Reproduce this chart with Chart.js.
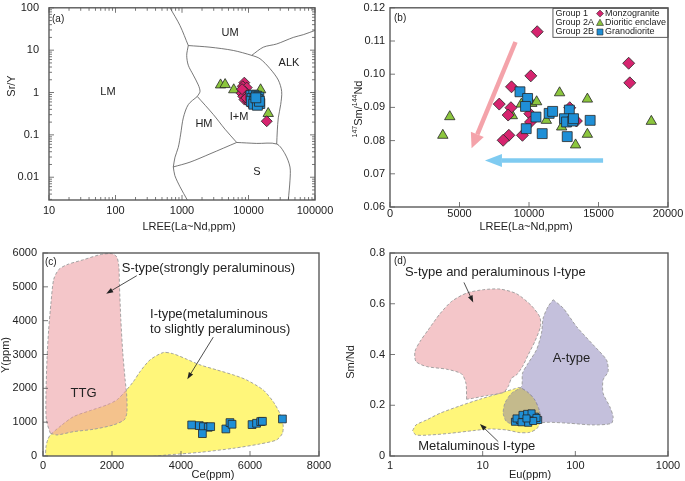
<!DOCTYPE html>
<html lang="en">
<head>
<meta charset="UTF-8">
<title>Granite discrimination diagrams</title>
<script src="https://cdn.jsdelivr.net/npm/chart.js@4.4.1/dist/chart.umd.min.js"></script>
<style>
  * { margin: 0; padding: 0; }
  body { width: 685px; height: 481px; background: #fff; position: relative; overflow: hidden; }
  .panel { position: absolute; }
</style>
</head>
<body>
<div class="panel" style="left:0;top:0"><canvas id="chartA" width="342" height="240"></canvas></div>
<div class="panel" style="left:342px;top:0"><canvas id="chartB" width="343" height="240"></canvas></div>
<div class="panel" style="left:0;top:240px"><canvas id="chartC" width="342" height="241"></canvas></div>
<div class="panel" style="left:342px;top:240px"><canvas id="chartD" width="343" height="241"></canvas></div>
<script>
const FONT = "'Liberation Sans', Arial, sans-serif";
Chart.defaults.font.family = FONT;

// ---------- (a) LREE vs Sr/Y ----------
const aTicksX = [10, 100, 1000, 10000, 100000];
const aTicksY = [0.01, 0.1, 1, 10, 100];
const aMonzogranite = [[8650,1.71],[8200,1.40],[9400,1.31],[8850,1.05],[7900,0.96],[8350,0.81],[8700,0.68],[9900,0.62],[9300,0.74],[10500,0.55],[18800,0.21],[8000,1.2]];
const aDioritic = [[3800,1.51],[4450,1.54],[6000,1.16],[15200,1.16],[19800,0.32]];
const aGranodiorite = [[10900,0.85],[12000,0.87],[13200,0.82],[14300,0.78],[11300,0.72],[12500,0.7],[13800,0.68],[11000,0.62],[12200,0.6],[13400,0.57],[14800,0.55],[12000,0.53],[13600,0.5],[14600,0.62],[12900,0.75]];
const aBoundaries = [
  [[660,100],[933,38.1],[1243,12.85]],
  [[1243,12.85],[2636,11.75],[5905,9.84],[11170,7.53],[14890,6.28],[21040,3.67],[28050,1.97],[31550,1.055],[30480,0.518],[28050,0.252],[27100,0.124],[26540,0.0608]],
  [[11170,7.53],[16700,11.75],[26540,14.0],[47200,20.0],[66700,23.2],[100000,29.2]],
  [[1243,12.85],[1177,7.53],[1243,4.40],[1479,2.58],[1758,1.51],[1865,1.055],[1698,0.807]],
  [[1698,0.807],[2956,0.303],[4433,0.136],[6645,0.0662]],
  [[1698,0.807],[1243,0.518],[1046,0.252],[955,0.104],[879,0.0507],[785,0.0297],[740,0.0175]],
  [[6645,0.0662],[2636,0.0356],[1319,0.0227],[740,0.0175]],
  [[6645,0.0662],[13280,0.0628],[26540,0.0608],[35400,0.0356],[42070,0.0174],[42070,0.0085],[39670,0.0029]],
  [[740,0.0175],[780,0.011],[933,0.00595],[1202,0.0029]]
];
const aRegionLabels = [['UM',5270,25.2],['ALK',40600,4.99],['LM',77,1.055],['HM',2140,0.18],['I+M',7200,0.262],['S',13400,0.0131]];

// ---------- (b) LREE vs 147Sm/144Nd ----------
const bTicksX = [0, 5000, 10000, 15000, 20000];
const bTicksY = [0.06, 0.07, 0.08, 0.09, 0.10, 0.11, 0.12];
const bMonzogranite = [[10590,0.1128],[17170,0.1033],[17250,0.0974],[10130,0.0995],[8740,0.0962],[7860,0.0910],[8700,0.0899],[8500,0.0877],[10060,0.0881],[10110,0.0856],[8550,0.0816],[8140,0.0801],[9530,0.0816],[12930,0.0899],[13410,0.0859]];
const bDioritic = [[3800,0.0816],[4300,0.0872],[8800,0.0875],[9450,0.0910],[10200,0.0912],[10550,0.0917],[11250,0.0861],[12200,0.0944],[12350,0.0841],[13350,0.0787],[14200,0.0925],[14200,0.0819],[18800,0.0858]];
const bGranodiorite = [[9350,0.0947],[9900,0.0927],[9750,0.0903],[10500,0.0871],[9800,0.0836],[10950,0.0821],[11450,0.0882],[11700,0.0888],[12900,0.0892],[12550,0.0866],[12700,0.0856],[13150,0.0859],[13200,0.0866],[12750,0.0812],[14400,0.0861]];
const bPinkArrow = [[9030,0.1097],[5870,0.0777]];
const bBlueArrow = [[15330,0.0740],[6830,0.0740]];
const bLegendGroups = ['Group 1', 'Group 2A', 'Group 2B'];
const bLegendNames = ['Monzogranite', 'Dioritic enclave', 'Granodiorite'];

// ---------- (c) Ce vs Y ----------
const cTicksX = [0, 2000, 4000, 6000, 8000];
const cTicksY = [0, 1000, 2000, 3000, 4000, 5000, 6000];
const cSType = [[212,671],[96,1066],[87,1855],[116,2842],[164,3730],[231,4520],[308,5211],[453,5507],[694,5655],[1176,5803],[1658,5951],[1995,5981],[2140,5882],[2198,5606],[2217,5013],[2256,4027],[2313,3040],[2381,2250],[2429,1757],[2429,1263],[2352,1066],[2043,918],[1465,790],[887,720],[405,622],[212,671]];
const cIType = [[70,-60],[87,276],[135,474],[212,622],[549,918],[887,1165],[1369,1342],[1851,1510],[2140,1658],[2381,1905],[2622,2201],[2815,2497],[3104,2842],[3489,3059],[3778,3020],[4164,2862],[4550,2694],[5032,2546],[5513,2398],[5899,2250],[6381,1954],[6670,1609],[6863,1263],[6959,918],[6940,671],[6767,474],[6285,355],[5513,227],[4550,109],[3586,30],[2622,-60],[70,-60]];
const cGranodiorite = [[4310,918],[4530,898],[4650,868],[4790,849],[4860,868],[4620,661],[5300,799],[5420,987],[5480,938],[6060,928],[6190,967],[6310,1017],[6360,1026],[6940,1095]];
const cLabels = [['S-type(strongly peraluminous)',2284,5556,'left'],['I-type(metaluminous',3104,4175,'left'],['to slightly peraluminous)',3104,3730,'left'],['TTG',1176,1836,'center']];
const cArrows = [[[2718,5329],[1831,4796]],[[4935,3513],[4183,2270]]];

// ---------- (d) Eu vs Sm/Nd ----------
const dTicksX = [1, 10, 100, 1000];
const dTicksY = [0, 0.2, 0.4, 0.6, 0.8];
const dSType = [[6.71,0.2237],[6.60,0.2868],[5.92,0.3237],[4.08,0.3421],[2.48,0.3526],[1.907,0.3724],[1.86,0.4118],[2.11,0.4513],[2.59,0.4974],[3.46,0.5605],[4.62,0.6092],[6.71,0.6421],[10.14,0.6553],[15.34,0.6579],[23.2,0.6395],[33.66,0.5921],[41.4,0.5474],[42.09,0.5105],[36.56,0.4513],[30.99,0.3987],[26.92,0.3526],[23.2,0.3197],[20.49,0.3066],[18.86,0.2737],[16.66,0.25],[11.02,0.2382],[7.91,0.2276],[6.71,0.2237]];
const dAType = [[57.64,0.6158],[73.87,0.5829],[102.8,0.5105],[155.6,0.4382],[216.6,0.3789],[225.8,0.3329],[199.4,0.3],[199.4,0.2474],[235.2,0.1947],[255.6,0.1553],[245.2,0.1289],[155.6,0.1224],[87.2,0.1289],[48.84,0.1329],[35.09,0.1263],[23.2,0.1224],[18.1,0.1355],[16.66,0.1684],[17.36,0.2079],[20.49,0.2474],[26.26,0.2737],[26.92,0.3263],[30.99,0.3658],[38.11,0.4184],[43.14,0.4842],[44.97,0.5434],[50.91,0.5895],[57.64,0.6158]];
const dMetaluminous = [[1.755,0.1],[1.907,0.1224],[2.48,0.1421],[3.46,0.1684],[5.68,0.1974],[9.34,0.2237],[15.34,0.2474],[21.36,0.2632],[25.2,0.2697],[30.99,0.25],[36.56,0.2211],[40.72,0.1816],[42.09,0.1421],[38.75,0.1092],[32.3,0.0934],[25.2,0.0921],[18.1,0.1026],[11.97,0.1066],[7.91,0.1],[4.44,0.0895],[2.7,0.0829],[1.907,0.0829],[1.755,0.1]];
const dGranodiorite = [[22.3,0.135],[25.2,0.142],[28.5,0.155],[32.3,0.162],[36.6,0.155],[39.7,0.142],[23.2,0.148],[26.9,0.162],[30.2,0.166],[33.7,0.168],[38.1,0.150],[26.3,0.133],[31.0,0.131],[35.1,0.138],[29.7,0.148]];
const dLabels = [['S-type and peraluminous I-type',1.45,0.7237,'left'],['A-type',90.8,0.3855,'center'],['Metaluminous I-type',2.02,0.0368,'left']];
const dArrows = [[[6.28,0.684],[7.91,0.605]],[[14.72,0.0566],[9.34,0.1263]]];

const PINK_FILL = 'rgba(235,150,155,0.54)';
const YELLOW_FILL = 'rgb(255,246,122)';
const PURPLE_FILL = 'rgba(107,97,167,0.4)';

const pts = arr => arr.map(([x, y]) => ({ x, y }));

function markers(data, style, color, r) {
  return { data: pts(data), pointStyle: style, pointRadius: r, backgroundColor: color,
           borderColor: '#262626', borderWidth: 0.8, showLine: false };
}
function region(data, fill) {
  return { data: pts(data), showLine: true, fill: 'shape', backgroundColor: fill,
           borderColor: '#9a9a9a', borderWidth: 0.9, borderDash: [3, 2], pointRadius: 0, tension: 0.25 };
}
function boundary(data) {
  return { data: pts(data), showLine: true, fill: false, borderColor: '#555', borderWidth: 0.8,
           pointRadius: 0, tension: 0.3 };
}

function axis(type, min, max, ticks, pad, fmt, isX, size) {
  return {
    type, min, max,
    grid: { display: false, drawTicks: false },
    border: { display: false },
    afterBuildTicks: s => { s.ticks = ticks.map(v => ({ value: v })); },
    afterFit: s => {
      if (isX) s.height = size; else s.width = size;
      s.paddingTop = 0; s.paddingBottom = 0; s.paddingLeft = 0; s.paddingRight = 0;
    },
    ticks: { padding: pad, color: '#222', font: { size: 11 }, callback: fmt, maxRotation: 0, autoSkip: false }
  };
}

function txt(ctx, s, x, y, size, align) {
  ctx.font = size + 'px ' + FONT;
  ctx.fillStyle = '#222';
  ctx.textAlign = align || 'left';
  ctx.textBaseline = 'middle';
  ctx.fillText(s, x, y);
}
function vtxt(ctx, s, x, y, size) {
  ctx.save(); ctx.translate(x, y); ctx.rotate(-Math.PI / 2);
  txt(ctx, s, 0, 0, size, 'center'); ctx.restore();
}
function arrow(ctx, x0, y0, x1, y1, color, w, hl, hw) {
  const ang = Math.atan2(y1 - y0, x1 - x0);
  const bx = x1 - hl * Math.cos(ang), by = y1 - hl * Math.sin(ang);
  ctx.strokeStyle = color; ctx.lineWidth = w; ctx.lineCap = 'butt';
  ctx.beginPath(); ctx.moveTo(x0, y0); ctx.lineTo(bx, by); ctx.stroke();
  ctx.fillStyle = color; ctx.beginPath(); ctx.moveTo(x1, y1);
  ctx.lineTo(bx - hw / 2 * Math.sin(ang), by + hw / 2 * Math.cos(ang));
  ctx.lineTo(bx + hw / 2 * Math.sin(ang), by - hw / 2 * Math.cos(ang));
  ctx.closePath(); ctx.fill();
}

// frame + inner tick marks
function frame(chart, xt, yt, logX, logY, allSides) {
  const { ctx, chartArea: a } = chart;
  const xs = chart.scales.x, ys = chart.scales.y;
  ctx.save();
  ctx.strokeStyle = '#555'; ctx.lineWidth = 0.8;
  ctx.beginPath();
  const xMarks = [], yMarks = [];
  xt.forEach(v => xMarks.push([v, 5]));
  yt.forEach(v => yMarks.push([v, 5]));
  if (logX) xt.slice(0, -1).forEach(v => { for (let k = 2; k < 10; k++) xMarks.push([v * k, 3]); });
  if (logY) {
    const d0 = [0.001].concat(yt);
    d0.forEach(v => { for (let k = 2; k < 10; k++) yMarks.push([v * k, 3]); });
  }
  xMarks.forEach(([v, l]) => {
    const p = xs.getPixelForValue(v);
    if (p < a.left || p > a.right) return;
    ctx.moveTo(p, a.bottom); ctx.lineTo(p, a.bottom - l);
    if (allSides) { ctx.moveTo(p, a.top); ctx.lineTo(p, a.top + l); }
  });
  yMarks.forEach(([v, l]) => {
    const p = ys.getPixelForValue(v);
    if (p < a.top || p > a.bottom) return;
    ctx.moveTo(a.left, p); ctx.lineTo(a.left + l, p);
    if (allSides) { ctx.moveTo(a.right, p); ctx.lineTo(a.right - l, p); }
  });
  ctx.stroke();
  ctx.strokeStyle = '#5a5a5a'; ctx.lineWidth = 1.4;
  ctx.strokeRect(a.left, a.top, a.right - a.left, a.bottom - a.top);
  ctx.restore();
}

function makeChart(id, box, xAxis, yAxis, datasets, extra) {
  return new Chart(document.getElementById(id), {
    type: 'scatter',
    data: { datasets },
    options: {
      responsive: false, animation: false, events: [],
      layout: { padding: { left: 0, top: box.t, right: box.w - box.r, bottom: 0 } },
      plugins: { legend: { display: false }, tooltip: { enabled: false } },
      scales: { x: xAxis, y: yAxis }
    },
    plugins: [{ id: 'decor', afterDraw: chart => extra(chart) }]
  });
}

const plain = v => String(v);

// ---- chart (a)
makeChart('chartA', { w: 342, t: 5, r: 315 },
  axis('logarithmic', 10, 100000, aTicksX, 4, plain, true, 40),
  axis('logarithmic', 0.0029, 100, aTicksY, 10, plain, false, 49),
  [markers(aGranodiorite, 'rect', '#1f8fd6', 7),
   markers(aMonzogranite, 'rectRot', '#d6246f', 5.5),
   markers(aDioritic, 'triangle', '#8cc63e', 6)]
    .concat(aBoundaries.map(boundary)),
  chart => {
    const { ctx, chartArea: a } = chart;
    const xs = chart.scales.x, ys = chart.scales.y;
    aRegionLabels.forEach(([s, x, y]) => txt(ctx, s, xs.getPixelForValue(x), ys.getPixelForValue(y), 11, 'center'));
    txt(ctx, '(a)', a.left + 3, a.top + 11, 10, 'left');
    vtxt(ctx, 'Sr/Y', 12, 86, 11);
    txt(ctx, 'LREE(La~Nd,ppm)', 189, 227, 11, 'center');
    frame(chart, aTicksX, aTicksY, true, true, true);
  });

// ---- chart (b)
const LEG_MARK = [['rectRot', '#d6246f'], ['triangle', '#8cc63e'], ['rect', '#1f8fd6']];
makeChart('chartB', { w: 343, t: 3, r: 326 },
  axis('linear', 0, 20000, bTicksX, 0, plain, true, 33),
  axis('linear', 0.06, 0.12, bTicksY, 5, v => v.toFixed(2), false, 48),
  [markers(bGranodiorite, 'rect', '#1f8fd6', 7),
   markers(bMonzogranite, 'rectRot', '#d6246f', 6),
   markers(bDioritic, 'triangle', '#8cc63e', 6)],
  chart => {
    const { ctx, chartArea: a } = chart;
    const xs = chart.scales.x, ys = chart.scales.y;
    const P = p => [xs.getPixelForValue(p[0]), ys.getPixelForValue(p[1])];
    let s = P(bPinkArrow[0]), e = P(bPinkArrow[1]);
    arrow(ctx, s[0], s[1], e[0], e[1], '#f4a3aa', 4.5, 15, 14);
    s = P(bBlueArrow[0]); e = P(bBlueArrow[1]);
    arrow(ctx, s[0], s[1], e[0], e[1], '#7fcbf1', 4.5, 17, 13);
    // legend box, sized from its text
    ctx.save();
    ctx.font = '9px ' + FONT;
    const gw = Math.max(...bLegendGroups.map(g => ctx.measureText(g).width));
    const nw = Math.max(...bLegendNames.map(n => ctx.measureText(n).width));
    const bw = 2.5 + gw + 2.5 + 7 + 1.5 + nw + 2;
    const lx = a.right - bw, ly = a.top + 0.5;
    ctx.fillStyle = '#fff'; ctx.fillRect(lx, ly, bw, 29);
    ctx.strokeStyle = '#333'; ctx.lineWidth = 0.8; ctx.strokeRect(lx, ly, bw, 29);
    bLegendGroups.forEach((g, i) => {
      const y = ly + 5.3 + i * 9.2;
      txt(ctx, g, lx + 2.5, y, 9, 'left');
      const mx = lx + 2.5 + gw + 2.5 + 3.5, [st, col] = LEG_MARK[i];
      ctx.fillStyle = col; ctx.strokeStyle = '#262626'; ctx.lineWidth = 0.6;
      ctx.beginPath();
      if (st === 'rectRot') { ctx.moveTo(mx, y - 3.5); ctx.lineTo(mx + 3.5, y); ctx.lineTo(mx, y + 3.5); ctx.lineTo(mx - 3.5, y); }
      else if (st === 'triangle') { ctx.moveTo(mx, y - 3.6); ctx.lineTo(mx + 3.5, y + 2.6); ctx.lineTo(mx - 3.5, y + 2.6); }
      else { ctx.rect(mx - 3, y - 3, 6, 6); }
      ctx.closePath(); ctx.fill(); ctx.stroke();
      txt(ctx, bLegendNames[i], mx + 5, y, 9, 'left');
    });
    ctx.restore();
    txt(ctx, '(b)', a.left + 4, a.top + 10, 10, 'left');
    // rotated 147Sm/144Nd
    ctx.save(); ctx.translate(17, 109); ctx.rotate(-Math.PI / 2);
    const parts = [['147', 7, -3.5], ['Sm/', 11, 0], ['144', 7, -3.5], ['Nd', 11, 0]];
    let tw = 0;
    parts.forEach(p => { ctx.font = p[1] + 'px ' + FONT; tw += ctx.measureText(p[0]).width; });
    let cx = -tw / 2;
    ctx.fillStyle = '#222'; ctx.textBaseline = 'middle'; ctx.textAlign = 'left';
    parts.forEach(p => { ctx.font = p[1] + 'px ' + FONT; ctx.fillText(p[0], cx, p[2]); cx += ctx.measureText(p[0]).width; });
    ctx.restore();
    txt(ctx, 'LREE(La~Nd,ppm)', 184, 227, 11, 'center');
    frame(chart, bTicksX, bTicksY, false, false, false);
  });

// ---- chart (c)
function thinArrows(chart, list) {
  const ctx = chart.ctx, xs = chart.scales.x, ys = chart.scales.y;
  list.forEach(([p0, p1]) => arrow(ctx, xs.getPixelForValue(p0[0]), ys.getPixelForValue(p0[1]),
    xs.getPixelForValue(p1[0]), ys.getPixelForValue(p1[1]), '#222', 0.8, 7, 5));
}
function regionLabels(chart, list) {
  const ctx = chart.ctx, xs = chart.scales.x, ys = chart.scales.y;
  list.forEach(([s, x, y, al]) => txt(ctx, s, xs.getPixelForValue(x), ys.getPixelForValue(y), 13, al));
}
makeChart('chartC', { w: 342, t: 13, r: 319 },
  axis('linear', 0, 8000, cTicksX, 3, plain, true, 25),
  axis('linear', 0, 6000, cTicksY, 6, plain, false, 43),
  [markers(cGranodiorite, 'rect', '#1f8fd6', 5.5),
   region(cSType, PINK_FILL),
   region(cIType, YELLOW_FILL)],
  chart => {
    const a = chart.chartArea;
    regionLabels(chart, cLabels);
    thinArrows(chart, cArrows);
    txt(chart.ctx, '(c)', a.left + 2, a.top + 9, 10, 'left');
    vtxt(chart.ctx, 'Y(ppm)', 6, 115, 11);
    txt(chart.ctx, 'Ce(ppm)', 213, 235, 11, 'center');
    frame(chart, cTicksX, cTicksY, false, false, false);
  });

// ---- chart (d)
makeChart('chartD', { w: 343, t: 13, r: 326 },
  axis('logarithmic', 1, 1000, dTicksX, 3, plain, true, 25),
  axis('linear', 0, 0.8, dTicksY, 5, plain, false, 48),
  [markers(dGranodiorite, 'rect', '#1f8fd6', 5),
   region(dAType, PURPLE_FILL),
   region(dSType, PINK_FILL),
   region(dMetaluminous, YELLOW_FILL)],
  chart => {
    const a = chart.chartArea;
    regionLabels(chart, dLabels);
    thinArrows(chart, dArrows);
    txt(chart.ctx, '(d)', a.left + 4, a.top + 8, 10, 'left');
    vtxt(chart.ctx, 'Sm/Nd', 9, 122, 11);
    txt(chart.ctx, 'Eu(ppm)', 188, 235, 11, 'center');
    frame(chart, dTicksX, dTicksY, false, false, false);
  });
</script>
</body>
</html>
